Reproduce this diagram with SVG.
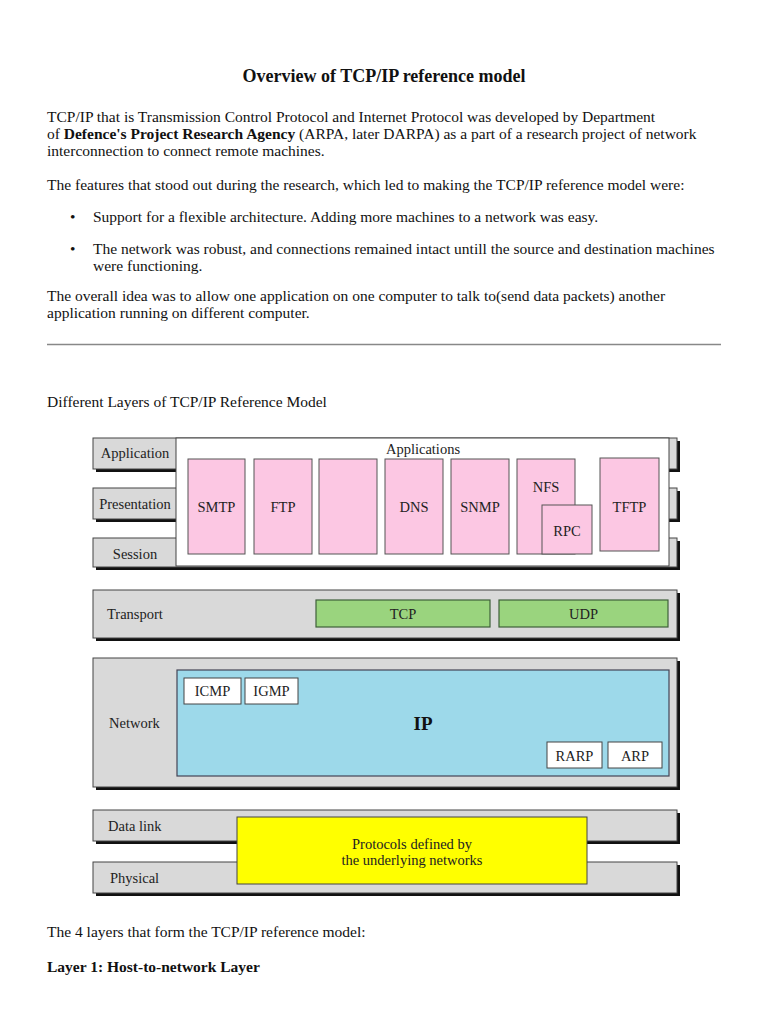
<svg xmlns="http://www.w3.org/2000/svg" width="768" height="1024" viewBox="0 0 768 1024">
<style>
text{font-family:"Liberation Serif","Times New Roman",serif;fill:#111}
.body{font-size:15.5px}
.b{font-weight:bold}
.lbl{font-size:14.5px;fill:#222}
.band{fill:#d9d9d9;stroke:#444;stroke-width:1}
.shadow{fill:#111}
.pink{fill:#fcc7e3;stroke:#555;stroke-width:1}
.green{fill:#9ad47e;stroke:#3f5f3a;stroke-width:1.2}
.white{fill:#fff;stroke:#444;stroke-width:1}
.blue{fill:#9dd9ea;stroke:#445;stroke-width:1.2}
.yellow{fill:#ffff00;stroke:#444;stroke-width:1}
.c{text-anchor:middle}
</style>
<rect width="768" height="1024" fill="#fff"/>
<g id="text">
<text x="384" y="82" class="c b" style="font-size:18px">Overview of TCP/IP reference model</text>
<text x="47" y="122" class="body">TCP/IP that is Transmission Control Protocol and Internet Protocol was developed by Department</text>
<text x="47" y="139" class="body">of <tspan class="b">Defence's Project Research Agency</tspan> (ARPA, later DARPA) as a part of a research project of network</text>
<text x="47" y="156" class="body">interconnection to connect remote machines.</text>
<text x="47" y="190" class="body">The features that stood out during the research, which led to making the TCP/IP reference model were:</text>
<text x="70" y="222" class="body">•</text>
<text x="93" y="222" class="body">Support for a flexible architecture. Adding more machines to a network was easy.</text>
<text x="70" y="254" class="body">•</text>
<text x="93" y="254" class="body">The network was robust, and connections remained intact untill the source and destination machines</text>
<text x="93" y="271" class="body">were functioning.</text>
<text x="47" y="301" class="body">The overall idea was to allow one application on one computer to talk to(send data packets) another</text>
<text x="47" y="318" class="body">application running on different computer.</text>
<text x="47" y="407" class="body">Different Layers of TCP/IP Reference Model</text>
<text x="47" y="937" class="body">The 4 layers that form the TCP/IP reference model:</text>
<text x="47" y="972" class="body b">Layer 1: Host-to-network Layer</text>
</g>
<line x1="47" y1="344.5" x2="721" y2="344.5" stroke="#888" stroke-width="1.5"/>
<g id="app-layers">
<rect x="96" y="441" width="584" height="31" class="shadow"/>
<rect x="93" y="438" width="584" height="31" class="band"/>
<rect x="96" y="491" width="584" height="31" class="shadow"/>
<rect x="93" y="488" width="584" height="31" class="band"/>
<rect x="96" y="541" width="584" height="29" class="shadow"/>
<rect x="93" y="538" width="584" height="29" class="band"/>
<text x="135" y="458" class="lbl c">Application</text>
<text x="135" y="509" class="lbl c">Presentation</text>
<text x="135" y="559" class="lbl c">Session</text>
</g>
<g id="applications">
<rect x="176" y="438" width="493" height="128" class="white"/>
<text x="423" y="454" class="lbl c">Applications</text>
<rect x="188" y="459" width="57" height="95" class="pink"/>
<text x="216.5" y="512" class="lbl c">SMTP</text>
<rect x="254" y="459" width="58" height="95" class="pink"/>
<text x="283" y="512" class="lbl c">FTP</text>
<rect x="319" y="459" width="58" height="95" class="pink"/>
<rect x="385" y="459" width="58" height="95" class="pink"/>
<text x="414" y="512" class="lbl c">DNS</text>
<rect x="451" y="459" width="58" height="95" class="pink"/>
<text x="480" y="512" class="lbl c">SNMP</text>
<rect x="517" y="459" width="58" height="95" class="pink"/>
<text x="546" y="492" class="lbl c">NFS</text>
<rect x="542" y="505" width="50" height="49" class="pink"/>
<text x="567" y="536" class="lbl c">RPC</text>
<rect x="600" y="458" width="59" height="93" class="pink"/>
<text x="629.5" y="512" class="lbl c">TFTP</text>
</g>
<g id="transport">
<rect x="96" y="593" width="584" height="48" class="shadow"/>
<rect x="93" y="590" width="584" height="48" class="band"/>
<text x="107" y="619" class="lbl">Transport</text>
<rect x="316" y="600" width="174" height="27" class="green"/>
<text x="403" y="619" class="lbl c">TCP</text>
<rect x="499" y="600" width="169" height="27" class="green"/>
<text x="583.5" y="619" class="lbl c">UDP</text>
</g>
<g id="network">
<rect x="96" y="661" width="584" height="129" class="shadow"/>
<rect x="93" y="658" width="584" height="129" class="band"/>
<text x="109" y="728" class="lbl">Network</text>
<rect x="177" y="670" width="492" height="106" class="blue"/>
<text x="423" y="730" class="c b" style="font-size:19px">IP</text>
<rect x="184" y="678" width="57" height="26" class="white"/>
<text x="212.5" y="696" class="lbl c">ICMP</text>
<rect x="245" y="678" width="53" height="26" class="white"/>
<text x="271.5" y="696" class="lbl c">IGMP</text>
<rect x="547" y="742" width="55" height="26" class="white"/>
<text x="574.5" y="761" class="lbl c">RARP</text>
<rect x="608" y="742" width="54" height="26" class="white"/>
<text x="635" y="761" class="lbl c">ARP</text>
</g>
<g id="lower-layers">
<rect x="96" y="813" width="584" height="31" class="shadow"/>
<rect x="93" y="810" width="584" height="31" class="band"/>
<rect x="96" y="865" width="584" height="31" class="shadow"/>
<rect x="93" y="862" width="584" height="31" class="band"/>
<text x="108" y="831" class="lbl">Data link</text>
<text x="110" y="883" class="lbl">Physical</text>
<rect x="237" y="817" width="350" height="67" class="yellow"/>
<text x="412" y="849" class="lbl c">Protocols defined by</text>
<text x="412" y="865" class="lbl c">the underlying networks</text>
</g>
</svg>
